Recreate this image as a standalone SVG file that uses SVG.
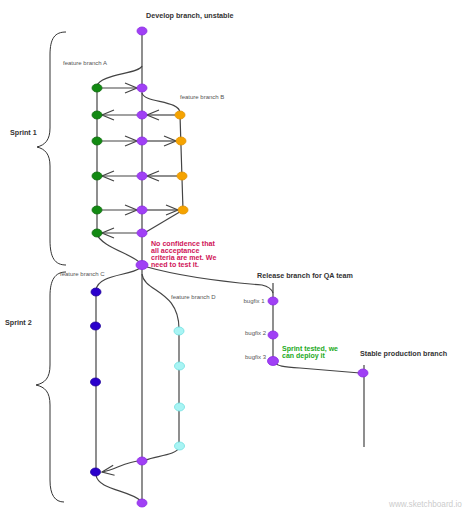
<svg xmlns="http://www.w3.org/2000/svg" width="474" height="514" viewBox="0 0 474 514">
<defs>
<style>
.ln{fill:none;stroke:#444;stroke-width:1.2}
.br{fill:none;stroke:#333;stroke-width:1}
.pu{fill:#a040f5;stroke:#8a2be2;stroke-width:0.8}
.gr{fill:#128a12;stroke:#0c6a0c;stroke-width:0.8}
.or{fill:#f5a300;stroke:#e09000;stroke-width:0.8}
.bl{fill:#2a00cc;stroke:#1e0099;stroke-width:0.8}
.cy{fill:#a8f4f4;stroke:#70e0e0;stroke-width:0.8}
.hd{font-family:"Liberation Sans",Arial,sans-serif;font-weight:bold;font-size:7.2px;fill:#333}
.sm{font-family:"Liberation Sans",Arial,sans-serif;font-size:6px;fill:#555}
.red{font-family:"Liberation Sans",Arial,sans-serif;font-weight:bold;font-size:7.1px;fill:#d01458}
.grn{font-family:"Liberation Sans",Arial,sans-serif;font-weight:bold;font-size:7px;fill:#22aa22}
.wm{font-family:"Liberation Sans",Arial,sans-serif;font-size:8.2px;fill:#cccccc}
</style>
<marker id="ah" viewBox="-13 -6 14 12" refX="0" refY="0" markerWidth="14" markerHeight="12" markerUnits="userSpaceOnUse" orient="auto">
<path d="M-12,-5 L0,0 L-12,5" fill="none" stroke="#444" stroke-width="1.2"/>
</marker>
</defs>
<rect width="474" height="514" fill="#ffffff"/>

<g id="braces">
<path class="br" d="M66,32 C55,32 50,38 50,55 L50,128 C50,140 45,145 37,147 C45,149 50,154 50,166 L50,240 C50,258 55,265 66,265"/>
<path class="br" d="M66,272 C55,272 50,280 50,296 L50,365 C50,378 45,383 36,385 C45,387 50,392 50,405 L50,480 C50,495 55,502 64,502"/>
</g>

<g id="connectors">
<line class="ln" x1="142" y1="31" x2="142" y2="503"/>
<line class="ln" x1="97" y1="88" x2="97" y2="233"/>
<line class="ln" x1="180" y1="115" x2="183" y2="210"/>
<line class="ln" x1="96" y1="292" x2="96" y2="472"/>
<line class="ln" x1="179" y1="331" x2="179" y2="446"/>
<line class="ln" x1="273" y1="283" x2="273" y2="361"/>
<line class="ln" x1="364" y1="365" x2="364" y2="447"/>

<path class="ln" d="M142,66 C139,74 100,74 97,86"/>
<path class="ln" d="M142,93 C144,103 180,100 180,113"/>
<path class="ln" d="M183,210 L146,232"/>
<path class="ln" d="M97,234 C100,246 134,255 140,263"/>
<path class="ln" d="M140,268 C130,276 98,274 96,290"/>
<path class="ln" d="M142,274 C144,292 179,290 179,329"/>
<path class="ln" d="M147,267 Q190,279 262,285 Q271,287 273,293"/>
<path class="ln" d="M274,362 C277,366 283,367 300,368 L360,373"/>
<path class="ln" d="M179,447 C178,455 155,456 146,460"/>
<path class="ln" marker-end="url(#ah)" d="M141,461 C125,461 116,470 102,472"/>
<path class="ln" d="M96,475 C98,490 130,490 141,501"/>

<line class="ln" marker-end="url(#ah)" x1="102" y1="88" x2="137" y2="88"/>
<line class="ln" marker-end="url(#ah)" x1="137" y1="115" x2="102" y2="115"/>
<line class="ln" marker-end="url(#ah)" x1="175" y1="115" x2="147" y2="115"/>
<line class="ln" marker-end="url(#ah)" x1="102" y1="141" x2="137" y2="141"/>
<line class="ln" marker-end="url(#ah)" x1="147" y1="141" x2="176" y2="141"/>
<line class="ln" marker-end="url(#ah)" x1="137" y1="176" x2="102" y2="176"/>
<line class="ln" marker-end="url(#ah)" x1="177" y1="176" x2="147" y2="176"/>
<line class="ln" marker-end="url(#ah)" x1="102" y1="210" x2="137" y2="210"/>
<line class="ln" marker-end="url(#ah)" x1="147" y1="210" x2="178" y2="210"/>
<line class="ln" marker-end="url(#ah)" x1="137" y1="233" x2="102" y2="233"/>
</g>

<g id="develop-nodes">
<ellipse class="pu" cx="142" cy="31" rx="5" ry="4"/>
<ellipse class="pu" cx="142" cy="88" rx="5" ry="4"/>
<ellipse class="pu" cx="142" cy="115" rx="5" ry="4"/>
<ellipse class="pu" cx="142" cy="141" rx="5" ry="4"/>
<ellipse class="pu" cx="142" cy="176" rx="5" ry="4"/>
<ellipse class="pu" cx="142" cy="210" rx="5" ry="4"/>
<ellipse class="pu" cx="142" cy="233" rx="5" ry="4"/>
<ellipse class="pu" cx="142" cy="265" rx="6" ry="4.5"/>
<ellipse class="pu" cx="142" cy="461" rx="5" ry="4"/>
<ellipse class="pu" cx="142" cy="503" rx="5" ry="4"/>
</g>
<g id="feature-a-nodes">
<ellipse class="gr" cx="97" cy="88" rx="5" ry="4"/>
<ellipse class="gr" cx="97" cy="115" rx="5" ry="4"/>
<ellipse class="gr" cx="97" cy="141" rx="5" ry="4"/>
<ellipse class="gr" cx="97" cy="176" rx="5" ry="4"/>
<ellipse class="gr" cx="97" cy="210" rx="5" ry="4"/>
<ellipse class="gr" cx="97" cy="233" rx="5" ry="4"/>
</g>
<g id="feature-b-nodes">
<ellipse class="or" cx="180" cy="115" rx="5" ry="4"/>
<ellipse class="or" cx="181" cy="141" rx="5" ry="4"/>
<ellipse class="or" cx="182" cy="176" rx="5" ry="4"/>
<ellipse class="or" cx="183" cy="210" rx="5" ry="4"/>
</g>
<g id="feature-c-nodes">
<ellipse class="bl" cx="96" cy="292" rx="5" ry="4"/>
<ellipse class="bl" cx="95.5" cy="326" rx="5" ry="4"/>
<ellipse class="bl" cx="95.5" cy="382" rx="5" ry="4"/>
<ellipse class="bl" cx="95.5" cy="472" rx="5" ry="4"/>
</g>
<g id="feature-d-nodes">
<ellipse class="cy" cx="179" cy="331" rx="5" ry="4"/>
<ellipse class="cy" cx="179.5" cy="366" rx="5" ry="4"/>
<ellipse class="cy" cx="179.5" cy="407" rx="5" ry="4"/>
<ellipse class="cy" cx="179.5" cy="446" rx="5" ry="4"/>
</g>
<g id="release-nodes">
<ellipse class="pu" cx="273" cy="301" rx="5" ry="4"/>
<ellipse class="pu" cx="273" cy="335" rx="5" ry="4"/>
<ellipse class="pu" cx="273" cy="361" rx="5.5" ry="4.5"/>
</g>
<g id="stable-node">
<ellipse class="pu" cx="363" cy="373" rx="5" ry="4"/>
</g>

<g id="labels">
<text class="hd" x="146" y="18.2">Develop branch, unstable</text>
<text class="hd" x="10" y="135">Sprint 1</text>
<text class="hd" x="5" y="324.5">Sprint 2</text>
<text class="sm" x="63" y="64.8">feature branch A</text>
<text class="sm" x="180" y="99.4">feature branch B</text>
<text class="sm" x="60" y="276.4">feature branch C</text>
<text class="sm" x="171" y="298.8">feature branch D</text>
<text class="red" x="151" y="245.5">No confidence that</text>
<text class="red" x="151" y="252.5">all acceptance</text>
<text class="red" x="151" y="259.5">criteria are met. We</text>
<text class="red" x="151" y="266.6">need to test it.</text>
<text class="hd" x="257" y="277.5">Release branch for QA team</text>
<text class="sm" x="264.5" y="303.2" text-anchor="end">bugfix 1</text>
<text class="sm" x="266" y="334.8" text-anchor="end">bugfix 2</text>
<text class="sm" x="266" y="358.8" text-anchor="end">bugfix 3</text>
<text class="grn" x="282" y="351">Sprint tested, we</text>
<text class="grn" x="282" y="358">can deploy it</text>
<text class="hd" x="360" y="356.2">Stable production branch</text>
<text class="wm" x="389" y="507">www.sketchboard.io</text>
</g>
</svg>
